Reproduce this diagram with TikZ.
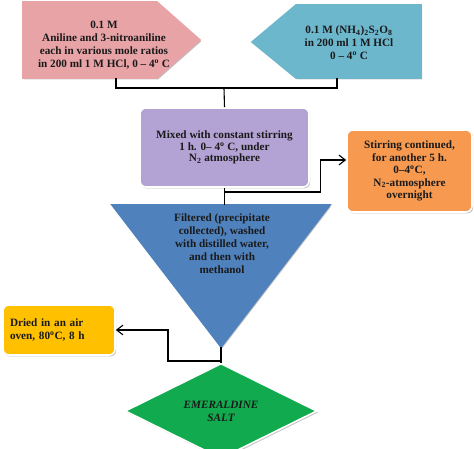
\documentclass[tikz,border=0pt]{standalone}
\usepackage{fontspec}
\setmainfont{Liberation Serif}
\usepackage{xcolor}
\usepackage{tikz}
\usetikzlibrary{arrows.meta,positioning,calc,shadows,shapes.geometric}
\definecolor{pinkbox}{HTML}{E8A3A7}
\definecolor{tealbox}{HTML}{6DB7CD}
\definecolor{lilac}{HTML}{B3A3D4}
\definecolor{orangebox}{HTML}{F79A50}
\definecolor{funnel}{HTML}{4F81BD}
\definecolor{yellowbox}{HTML}{FFC000}
\definecolor{saltgreen}{HTML}{12AA4E}
\definecolor{ink}{HTML}{1A1A1A}
\newcommand{\degO}{\textsuperscript{o}}
\tikzset{
  shade/.style={drop shadow={shadow xshift=1.2pt,shadow yshift=-1.4pt,opacity=.35,fill=black!70}},
  blk/.style={draw=white,line width=1.6pt,shade},
  txt/.style={inner sep=0pt,align=center,text=ink,
    font=\fontsize{11.2}{13}\selectfont\bfseries},
  rbox/.style={blk,txt,rounded corners=6pt,inner sep=4pt},
  wire/.style={draw=black,line width=1.1pt},
  wirea/.style={wire,-{Straight Barb[length=2.2mm,width=3.4mm]}},
}

\begin{document}
\begin{tikzpicture}[x=1pt,y=-1pt]
  \useasboundingbox (0,0) rectangle (474,449);
  % ---- top: the two starting solutions ----
  \fill[blk,pinkbox] (23,2) -- (157,2) -- (200,40) -- (157,78) -- (23,78) -- cycle;
  \node[txt] (anil) at (104,45)
    {0.1 M\\Aniline and 3-nitroaniline\\each in various mole ratios\\in 200 ml 1 M HCl, 0 -- 4\degO\ C};
  \coordinate (anilbot) at (116,78);
  \fill[blk,tealbox] (296,5) -- (421,5) -- (421,78) -- (296,78) -- (252,42) -- cycle;
  \node[txt] (oxid) at (349,43)
    {0.1 M (NH\textsubscript{4})\textsubscript{2}S\textsubscript{2}O\textsubscript{8}\\in 200 ml 1 M HCl\\0 -- 4\degO\ C};
  \coordinate (oxbot) at (337,78);
  \coordinate (jtop) at (224,88);
  % ---- middle: mixing and stirring ----
  \node[rbox,fill=lilac,minimum width=169pt,minimum height=79pt,
    font=\fontsize{11.2}{11.5}\selectfont\bfseries] (mix) at (224.5,147.5)
    {Mixed with constant stirring\\1 h. 0-- 4\degO\ C, under\\N\textsubscript{2} atmosphere};
  \node[rbox,fill=orangebox,minimum width=125pt,minimum height=82pt,
    font=\fontsize{11.2}{12.5}\selectfont\bfseries] (stir) at (409.5,171)
    {Stirring continued,\\for another 5 h.\\0--4\degO C,\\N\textsubscript{2}-atmosphere\\overnight};
  \draw[wire] (anilbot) |- (jtop) -| (oxbot);
  \draw[wire] (jtop) -- (mix.north);
  % ---- the funnel ----
  \fill[blk,funnel] (112,205) -- (330,205) -- (221,347) -- cycle;
  \node[txt] (filt) at (222,244)
    {Filtered (precipitate\\collected), washed\\with distilled water,\\and then with\\methanol};
  \coordinate (ftop) at (224.5,205);
  \coordinate (fapex) at (221,347);
  \coordinate (j2) at (224.5,192);
  \draw[wire] (mix.south) -- (ftop);
  \draw[wirea] (j2) -- ++(96,0) |- ([yshift=11pt]stir.west);
  % ---- bottom: drying and the product ----
  \node[rbox,fill=yellowbox,minimum width=112pt,minimum height=50pt,
    text width=98pt,align=left,inner xsep=7pt] (dry) at (59,330)
    {Dried in an air\\oven, 80\degO C, 8 h};
  \node[blk,txt,diamond,fill=saltgreen,minimum width=192pt,minimum height=74pt,
    inner sep=0pt] (salt) at (221,411) {\itshape EMERALDINE\\\itshape SALT};
  \coordinate (j3) at (221,361);
  \draw[wire] (fapex) -- (salt.north);
  \draw[wirea] (j3) -- ++(-53,0) |- (dry.east);
\end{tikzpicture}
\end{document}
